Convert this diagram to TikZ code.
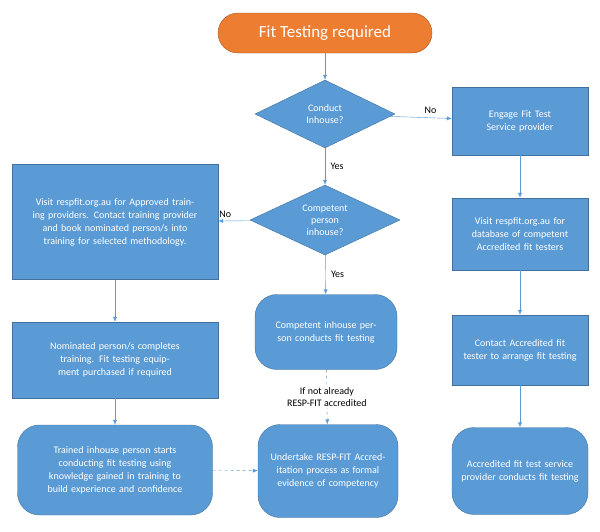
\documentclass[tikz,border=0pt]{standalone}
\usepackage{fontspec}
\setmainfont{Carlito}
\usetikzlibrary{shapes,positioning,arrows.meta}
\definecolor{boxblue}{HTML}{5B9BD5}
\definecolor{edgeblue}{HTML}{41719C}
\definecolor{startorange}{HTML}{ED7D31}
\tikzstyle{block} = [rectangle, draw=edgeblue, fill=boxblue, text=white,
    minimum width=136pt, text width=124pt, align=center, font=\fontsize{10}{13}\selectfont]
\tikzstyle{rblock} = [rectangle, draw=edgeblue, fill=boxblue, text=white,
    rounded corners=22pt, align=center, font=\fontsize{10}{13}\selectfont]
\tikzstyle{decision} = [diamond, aspect=2, draw=edgeblue, fill=boxblue, text=white,
    inner sep=1pt, align=center, font=\fontsize{10}{12}\selectfont]
\tikzstyle{line} = [draw=boxblue, -{Latex[length=5pt,width=4pt]}]
\begin{document}
\begin{tikzpicture}[x=1pt, y=-1pt, every text node part/.style={align=center}]
\useasboundingbox (0,0) rectangle (600,531);
	\node [rectangle, rounded corners=20pt, draw=startorange!70!black, fill=startorange, text=white,
	  minimum width=214pt, minimum height=40pt, font=\fontsize{17}{20}\selectfont] (start) at (325,33) {Fit Testing required};
	\node [decision, minimum width=140pt, minimum height=68pt] (inhouse) at (325,114) {Conduct\\Inhouse?};
	\node [block, minimum height=68pt] (engage) at (520,121) {Engage Fit Test\\Service provider};
	\node [decision, minimum width=150pt, minimum height=70pt] (comp) at (325,220) {Competent\\person\\inhouse?};
	\node [block, minimum width=206pt, text width=196pt, minimum height=115pt] (visit) at (115,222)
	  {Visit respfit.org.au for Approved training providers. Contact training provider and book nominated person/s into training for selected methodology.};
	\node [block, minimum height=72pt] (database) at (520,234) {Visit respfit.org.au for database of competent Accredited fit testers};
	\node [rblock, minimum width=142pt, text width=128pt, minimum height=75pt] (conducts) at (326,332) {Competent inhouse person conducts fit testing};
	\node [block, minimum width=206pt, text width=180pt, minimum height=76pt] (nominated) at (115,360)
	  {Nominated person/s completes training. Fit testing equipment purchased if required};
	\node [block, minimum height=70pt] (contact) at (520,350) {Contact Accredited fit tester to arrange fit testing};
	\node [rblock, minimum width=195pt, text width=170pt, minimum height=90pt] (trained) at (115,470)
	  {Trained inhouse person starts conducting fit testing using knowledge gained in training to build experience and confidence};
	\node [rblock, minimum width=140pt, text width=122pt, minimum height=93pt] (accred) at (328,471)
	  {Undertake RESP-FIT Accreditation process as formal evidence of competency};
	\node [rblock, minimum width=136pt, text width=118pt, minimum height=87pt] (provider) at (520,471)
	  {Accredited fit test service provider conducts fit testing};

	\path [line] (start) -- (inhouse);
	\path [line] (inhouse) -- node[above right, font=\fontsize{10}{12}\selectfont]{No} (engage);
	\path [line] (inhouse) -- node[right=2pt, font=\fontsize{10}{12}\selectfont]{Yes} (comp);
	\path [line] (comp) -- node[above left, font=\fontsize{10}{12}\selectfont]{No} (visit);
	\path [line] (comp) -- node[right=2pt, font=\fontsize{10}{12}\selectfont]{Yes} (conducts);
	\path [line] (engage) -- (database);
	\path [line] (database) -- (contact);
	\path [line] (contact) -- (provider);
	\path [line] (visit) -- (nominated);
	\path [line] (nominated) -- (trained);
	\path [line, dashed] (conducts) -- node[fill=white, inner sep=1pt, font=\fontsize{10}{12}\selectfont]{If not already\\RESP-FIT accredited} (accred);
	\path [line, dashed] (trained) -- (accred);
\end{tikzpicture}
\end{document}
